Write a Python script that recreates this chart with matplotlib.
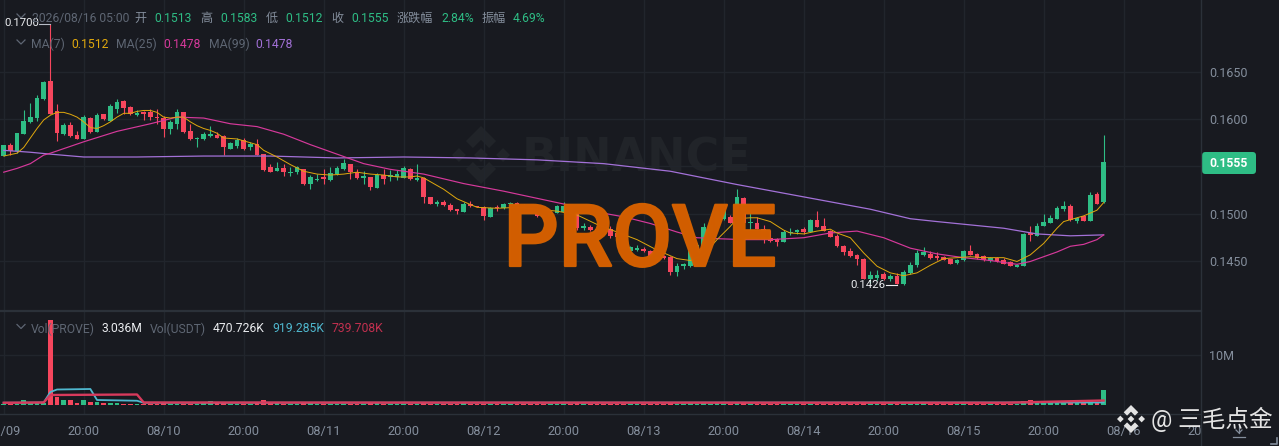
import matplotlib
matplotlib.use('Agg')
import matplotlib.pyplot as plt
import matplotlib.patheffects as pe
from matplotlib.patches import FancyBboxPatch, Polygon

plt.rcParams['font.family'] = ['Roboto', 'Noto Sans CJK SC', 'DejaVu Sans']

# candles, 1h
opens = [.1561,.1573,.1566,.1584,.1597,.1601,.1621,.1640,.1608,.1584,.1594,.1583,.1579,.1601,.1586,.1605,.1598,.1611,.1619,.1613,
         .1604,.1607,.1607,.1602,.1601,.1589,.1595,.1607,.1587,.1579,.1579,.1582,.1583,.1582,.1568,.1572,.1578,.1570,.1574,.1563,
         .1549,.1545,.1548,.1543,.1544,.1547,.1532,.1536,.1539,.1536,.1542,.1547,.1553,.1544,.1538,.1539,.1527,.1541,.1539,.1539,
         .1538,.1547,.1536,.1538,.1518,.1510,.1513,.1509,.1505,.1502,.1510,.1508,.1507,.1497,.1507,.1506,.1510,.1512,.1509,.1506,
         .1502,.1499,.1497,.1501,.1502,.1508,.1501,.1485,.1486,.1484,.1484,.1484,.1480,.1480,.1461,.1462,.1463,.1461,.1455,.1456,
         .1455,.1439,.1445,.1445,.1462,.1466,.1480,.1487,.1495,.1497,.1496,.1517,.1490,.1490,.1484,.1475,.1474,.1471,.1480,.1481,
         .1484,.1481,.1494,.1487,.1482,.1477,.1466,.1461,.1457,.1453,.1432,.1433,.1437,.1432,.1435,.1426,.1438,.1446,.1457,.1458,
         .1456,.1455,.1453,.1448,.1452,.1461,.1458,.1456,.1450,.1454,.1452,.1449,.1444,.1445,.1480,.1477,.1487,.1490,.1495,.1505,
         .1508,.1493,.1498,.1493,.1521,.1513]
closes = [.1573,.1566,.1585,.1598,.1602,.1622,.1639,.1605,.1585,.1594,.1582,.1579,.1602,.1586,.1604,.1600,.1614,.1618,.1612,.1605,
          .1606,.1605,.1602,.1601,.1590,.1597,.1607,.1586,.1579,.1580,.1584,.1584,.1580,.1570,.1575,.1578,.1568,.1574,.1562,.1546,
          .1544,.1548,.1544,.1544,.1549,.1532,.1539,.1537,.1537,.1543,.1548,.1554,.1544,.1538,.1540,.1528,.1541,.1537,.1541,.1542,
          .1548,.1537,.1538,.1518,.1511,.1513,.1509,.1504,.1503,.1511,.1508,.1507,.1498,.1506,.1506,.1511,.1512,.1508,.1506,.1502,
          .1498,.1497,.1501,.1508,.1508,.1502,.1485,.1487,.1483,.1482,.1482,.1477,.1476,.1463,.1465,.1464,.1461,.1454,.1453,.1454,
          .1439,.1445,.1447,.1464,.1467,.1486,.1488,.1503,.1504,.1491,.1518,.1491,.1492,.1484,.1474,.1472,.1471,.1481,.1481,.1483,
          .1481,.1494,.1486,.1482,.1476,.1466,.1460,.1456,.1453,.1432,.1436,.1436,.1432,.1435,.1426,.1439,.1446,.1459,.1460,.1454,
          .1454,.1452,.1447,.1452,.1461,.1457,.1454,.1452,.1454,.1451,.1447,.1445,.1446,.1479,.1478,.1487,.1492,.1496,.1506,.1508,
          .1494,.1496,.1493,.1520,.1511,.1555]
highs = [.1573,.1575,.1585,.1610,.1617,.1625,.1640,.1700,.1616,.1596,.1597,.1587,.1604,.1602,.1606,.1605,.1616,.1621,.1620,.1614,
         .1609,.1608,.1611,.1611,.1603,.1599,.1611,.1607,.1595,.1581,.1586,.1593,.1586,.1583,.1576,.1580,.1580,.1576,.1579,.1563,
         .1553,.1555,.1553,.1549,.1550,.1547,.1541,.1542,.1547,.1549,.1550,.1558,.1553,.1547,.1545,.1539,.1543,.1547,.1546,.1546,
         .1550,.1548,.1553,.1539,.1518,.1515,.1515,.1512,.1505,.1513,.1514,.1508,.1508,.1507,.1509,.1512,.1513,.1513,.1511,.1507,
         .1508,.1501,.1504,.1509,.1513,.1509,.1502,.1490,.1488,.1487,.1485,.1487,.1483,.1481,.1466,.1467,.1465,.1462,.1456,.1457,
         .1456,.1448,.1448,.1468,.1469,.1490,.1490,.1505,.1505,.1499,.1526,.1518,.1502,.1497,.1488,.1483,.1475,.1483,.1485,.1484,
         .1486,.1495,.1503,.1496,.1483,.1479,.1467,.1464,.1458,.1454,.1440,.1441,.1439,.1437,.1438,.1441,.1449,.1462,.1465,.1461,
         .1460,.1456,.1453,.1453,.1462,.1467,.1459,.1457,.1455,.1455,.1454,.1450,.1447,.1480,.1487,.1490,.1500,.1499,.1508,.1514,
         .1511,.1497,.1499,.1523,.1523,.1583]
lows = [.1561,.1562,.1564,.1584,.1596,.1598,.1620,.1605,.1577,.1583,.1581,.1579,.1579,.1585,.1586,.1599,.1598,.1606,.1605,.1604,
        .1603,.1599,.1599,.1595,.1581,.1584,.1590,.1585,.1578,.1571,.1578,.1581,.1580,.1562,.1568,.1569,.1567,.1567,.1562,.1545,
        .1544,.1545,.1540,.1540,.1542,.1530,.1526,.1535,.1532,.1535,.1541,.1546,.1537,.1537,.1532,.1525,.1527,.1532,.1535,.1536,
        .1538,.1536,.1535,.1512,.1510,.1508,.1508,.1503,.1500,.1502,.1507,.1507,.1494,.1497,.1503,.1505,.1508,.1505,.1504,.1501,
        .1497,.1492,.1497,.1501,.1501,.1501,.1483,.1483,.1482,.1482,.1481,.1475,.1475,.1463,.1459,.1461,.1460,.1454,.1449,.1453,
        .1436,.1435,.1442,.1444,.1461,.1465,.1479,.1487,.1494,.1490,.1495,.1491,.1483,.1484,.1469,.1470,.1466,.1471,.1478,.1479,
        .1479,.1481,.1486,.1482,.1476,.1465,.1457,.1455,.1446,.1432,.1427,.1431,.1431,.1429,.1426,.1425,.1437,.1444,.1456,.1453,
        .1452,.1452,.1447,.1447,.1451,.1457,.1453,.1450,.1449,.1449,.1447,.1445,.1444,.1445,.1472,.1477,.1487,.1490,.1495,.1503,
        .1493,.1491,.1493,.1493,.1511,.1512]
volumes = [.3,.3,.3,1.0,.5,.5,.5,17.0,1.7,1.0,1.0,.5,1.1,.6,.7,.4,.4,.4,.3,.3,
           .3,.3,.3,.3,.4,.3,.3,.3,.3,.3,.4,.9,.4,.4,.3,.3,.3,.3,.4,1.1,
           .7,.5,.3,.3,.3,.4,.4,.3,.3,.3,.3,.3,.3,.3,.3,.4,.4,.3,.3,.3,
           .3,.3,.3,.5,.3,.3,.3,.3,.3,.4,.3,.3,.3,.3,.3,.3,.3,.3,.3,.3,
           .3,.3,.3,.3,.3,.3,.4,.3,.3,.3,.3,.3,.3,.3,.3,.3,.3,.3,.3,.3,
           .5,.3,.3,.5,.3,.4,.3,.4,.3,.3,.6,.4,.3,.3,.3,.3,.3,.3,.3,.3,
           .3,.3,.3,.3,.3,.3,.3,.3,.3,.4,.3,.3,.3,.3,.3,.3,.3,.3,.4,.3,
           .3,.3,.2,.2,.3,.2,.2,.2,.2,.2,.2,.2,.2,.9,1.1,.6,.5,.5,.4,.4,
           .6,.4,.4,.9,.6,3.036]

# moving averages, sampled from the drawn curves (candle index, price)
ma7_idx = [0,2,3,4,5,6,7,8,9,10,11,12,13,14,15,16,17,18,19,20,21,22,23,24,25,26,27,28,29,30,31,32,33,35,37,38,39,41,43,45,47,49,51,53,55,57,59,61,62,63,66,68,69,71,74,77,80,83,86,89,92,95,98,101,103,105,107,109,110,112,113,115,117,118,120,122,124,125,127,129,131,133,135,137,139,141,143,145,147,150,152,154,156,158,159,161,162,163,164,165]
ma7_val = [.1561,.1564,.1570,.1580,.1590,.1599,.1604,.1607,.1607,.1605,.1602,.1597,.1591,.1590,.1593,.1597,.1602,.1606,.1606,.1608,.1609,.1609,.1607,.1602,.1601,.1602,.1602,.1597,.1593,.1590,.1588,.1585,.1580,.1579,.1575,.1573,.1567,.1560,.1552,.1545,.1542,.1541,.1542,.1544,.1542,.1541,.1539,.1539,.1540,.1538,.1526,.1516,.1513,.1507,.1506,.1507,.1505,.1503,.1499,.1489,.1481,.1473,.1462,.1453,.1451,.1457,.1473,.1487,.1495,.1496,.1496,.1492,.1483,.1480,.1479,.1482,.1484,.1480,.1475,.1459,.1445,.1438,.1435,.1438,.1446,.1453,.1454,.1455,.1454,.1454,.1450,.1457,.1469,.1485,.1492,.1496,.1498,.1501,.1504,.1512]
ma25_idx = [0,2,4,6,7,12,17,22,26,30,34,38,42,46,50,54,58,63,69,75,81,85,89,93,97,101,104,107,111,115,120,124,128,132,136,140,144,148,152,154,158,160,162,164,165]
ma25_val = [.1544,.1548,.1553,.1562,.1564,.1576,.1587,.1595,.1602,.1601,.1595,.1592,.1584,.1573,.1563,.1553,.1547,.1542,.1532,.1524,.1515,.1509,.1502,.1497,.1490,.1481,.1475,.1474,.1473,.1473,.1475,.1480,.1482,.1475,.1464,.1458,.1454,.1451,.1447,.1450,.1460,.1466,.1468,.1473,.1478]
ma99_idx = [0,4,7,12,20,30,40,50,60,70,80,90,100,110,120,130,136,140,150,155,160,165]
ma99_val = [.1567,.1565,.1563,.1560,.1560,.1561,.1561,.1559,.1560,.1559,.1557,.1553,.1545,.1531,.1518,.1505,.1495,.1492,.1485,.1479,.1477,.1478]

# volume averages
vol_ma_a_idx = [0,6,7,8,13,14,20,21,165]
vol_ma_a_val = [.45,.5,2.6,3.1,3.2,1.0,.85,.45,.5]
vol_ma_b_idx = [0,6,7,20,21,150,155,165]
vol_ma_b_val = [.45,.5,2.0,2.1,.5,.45,.6,.9]

time_ticks = [0,12,24,36,48,60,72,84,96,108,120,132,144,156,168,180]
time_labels = ['08/09','20:00','08/10','20:00','08/11','20:00','08/12','20:00','08/13','20:00','08/14','20:00','08/15','20:00','08/16','20:00']
price_ticks = [.145,.150,.155,.160,.165]
price_labels = ['0.1450','0.1500','0.1550','0.1600','0.1650']

BG = '#181a20'
GRID = '#21252c'
UP = '#2ebd85'
DOWN = '#f6465d'
GRAY = '#848e9c'
DIM = '#5e6673'
W, H = 1279, 446
XLIM = (-0.555, 179.6)


def make_axes(top, bottom, right=1201):
    return fig.add_axes([0, 1 - bottom / H, right / W, (bottom - top) / H], facecolor=BG)


def draw_logo(target, cx, cy, r, color, zorder, transform):
    # four-way mark: two chevrons, centre and side diamonds
    shapes = [[(0, -1), (.52, -.48), (.28, -.24), (0, -.52), (-.28, -.24), (-.52, -.48)],
              [(0, 1), (.52, .48), (.28, .24), (0, .52), (-.28, .24), (-.52, .48)],
              [(0, -.24), (.24, 0), (0, .24), (-.24, 0)],
              [(.76, -.24), (1, 0), (.76, .24), (.52, 0)],
              [(-.76, -.24), (-.52, 0), (-.76, .24), (-1, 0)]]
    for s in shapes:
        pts = [(cx + px * r, cy + py * r) for px, py in s]
        target.add_patch(Polygon(pts, closed=True, color=color, linewidth=0, zorder=zorder, transform=transform))


fig = plt.figure(figsize=(W / 100, H / 100), dpi=100, facecolor=BG)
ax = make_axes(0, 310)
ax_vol = make_axes(312, 414)
ax_time = make_axes(414, 446)

# overlay in pixel coordinates for headers and stamps
ov = fig.add_axes([0, 0, 1, 1], zorder=10)
ov.set_xlim(0, W)
ov.set_ylim(H, 0)
ov.axis('off')

for a in (ax, ax_vol, ax_time):
    for s in a.spines.values():
        s.set_visible(False)
    a.set_xticks(time_ticks)
    a.set_xlim(*XLIM)  # after the ticks, 180 would widen it otherwise
    a.tick_params(length=0, labelbottom=False)
ax.set_ylim(.13989, .17253)
ax.set_yticks(price_ticks)
ax.set_yticklabels(price_labels)
ax.yaxis.tick_right()
ax.tick_params(axis='y', labelsize=9, labelcolor=GRAY, pad=5.8)
ax.grid(True, color=GRID, linewidth=1)
ax.set_axisbelow(True)

ax_vol.set_ylim(-1.8, 18.6)
ax_vol.set_yticks([10])
ax_vol.set_yticklabels(['10M'])
ax_vol.yaxis.tick_right()
ax_vol.tick_params(axis='y', labelsize=9, labelcolor=GRAY, pad=5.8)
ax_vol.grid(True, color=GRID, linewidth=1)
ax_vol.set_axisbelow(True)

ax_time.set_ylim(0, 1)
ax_time.set_yticks([])
for x, lab in zip(time_ticks, time_labels):
    ax_time.text(x, 0.46, lab, color=GRAY, fontsize=9.3, ha='center', va='center', clip_on=True)

# faint exchange mark behind the candles
draw_logo(ax, 481, 155, 29, '#212429', 0.5, ov.transData)
ax.text(636.5, 172, 'BINANCE', transform=ov.transData, color='#212429', fontsize=33, fontweight='bold',
        family=['DejaVu Sans'], ha='center', va='baseline', zorder=0.5)

# candles
for i in range(len(opens)):
    c = UP if closes[i] >= opens[i] else DOWN
    ax.vlines(i, lows[i], highs[i], color=c, linewidth=0.8, zorder=2)
    body = max(abs(closes[i] - opens[i]), .00011)
    ax.bar(i, body, bottom=min(opens[i], closes[i]), width=0.72, color=c, linewidth=0, zorder=3)
    ax_vol.bar(i, volumes[i], width=0.72, color=c, linewidth=0, zorder=2)

ax.plot(ma99_idx, ma99_val, color='#a371d8', linewidth=0.9, zorder=4)
ax.plot(ma25_idx, ma25_val, color='#d6399b', linewidth=0.85, zorder=4)
ax.plot(ma7_idx, ma7_val, color='#e0a80d', linewidth=0.7, zorder=5)

ax_vol.plot(vol_ma_a_idx, vol_ma_a_val, color='#4fb8cf', linewidth=1.3, zorder=3)
ax_vol.plot(vol_ma_b_idx, vol_ma_b_val, color='#d83a5c', linewidth=1.7, zorder=4)

# panel separators
ov.plot([0, 1201], [311, 311], color='#2b3139', linewidth=1.6)
ov.plot([0, 1201], [414, 414], color='#2b3139', linewidth=1.0)
ov.plot([1201, 1201], [0, H], color='#2b3139', linewidth=1.0)

# high / low markers
ov.text(4, 23, '0.1700', color='#eaecef', fontsize=8.2, va='center')
ov.plot([39, 50], [23.5, 23.5], color='#b7bdc6', linewidth=0.8)
ov.text(850, 285, '0.1426', color='#eaecef', fontsize=8.2, va='center')
ov.plot([886, 897], [285, 285], color='#eaecef', linewidth=0.8)

# last price tag
ov.add_patch(FancyBboxPatch((1202, 152), 54, 22, boxstyle='round,pad=0,rounding_size=3.5', color=UP, linewidth=0))
ov.text(1228.5, 163.5, '0.1555', color='white', fontsize=8.7, fontweight='bold', ha='center', va='center')

# header rows
row1 = [(32, '2026/08/16 05:00', DIM), (134, '开', GRAY), (154, '0.1513', UP), (200, '高', GRAY), (220, '0.1583', UP),
        (266, '低', GRAY), (285, '0.1512', UP), (331, '收', GRAY), (351, '0.1555', UP), (397, '涨跌幅', GRAY),
        (441, '2.84%', UP), (482, '振幅', GRAY), (513, '4.69%', UP)]
row2 = [(31, 'MA(7)', DIM), (71, '0.1512', '#e0a80d'), (116, 'MA(25)', DIM), (163, '0.1478', '#d6399b'),
        (209, 'MA(99)', DIM), (255, '0.1478', '#a371d8')]
row3 = [(31, 'Vol(PROVE)', DIM), (101, '3.036M', '#eaecef'), (150, 'Vol(USDT)', DIM), (213, '470.726K', '#eaecef'),
        (272, '919.285K', '#4fb8cf'), (332, '739.708K', '#c2304f')]
for y, row in [(17, row1), (43, row2), (327.5, row3)]:
    for x, s, c in row:
        ov.text(x, y + 1.5, s, color=c, fontsize=8.7, va='center')
    ov.plot([17, 21, 25], [y - 3, y + 1, y - 3], color=DIM, linewidth=0.9)

# pasted ticker and repost stamp
ov.text(640, 266, 'PROVE', color='#d25e00', alpha=0.95, fontsize=62, fontweight='medium',
        family=['Roboto'], ha='center', va='baseline',
        path_effects=[pe.withStroke(linewidth=1.6, foreground='#d86400')])
ov.plot([1239, 1239], [425, 433], color=GRAY, linewidth=0.9)
ov.plot([1236, 1239, 1242], [430, 433, 430], color=GRAY, linewidth=0.9)
ov.plot([1233, 1245], [437, 437], color=GRAY, linewidth=0.9)
ov.plot([1271, 1277, 1277], [444, 444, 438], color=GRAY, linewidth=1.2)
draw_logo(ov, 1131, 419, 14, '#e3e3e3', 11, ov.transData)
ov.text(1151, 419, '@ 三毛点金', color='#e3e3e3', fontsize=17, va='center')

fig.savefig('out.png', dpi=100, facecolor=BG)
